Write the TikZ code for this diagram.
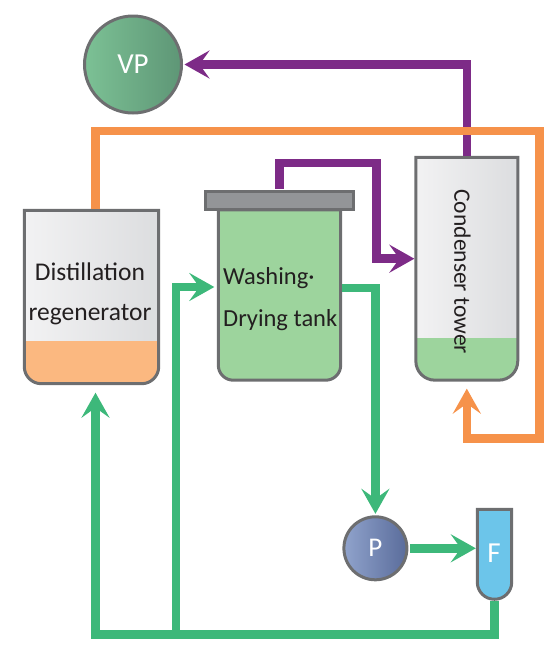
\documentclass[tikz,border=0pt]{standalone}
\usepackage{fontspec}
\setmainfont{Carlito}
\usetikzlibrary{positioning, arrows.meta, backgrounds}

\definecolor{pipe_purple}{HTML}{7D2B87}
\definecolor{pipe_orange}{HTML}{F6924A}
\definecolor{pipe_green}{HTML}{3DB87A}
\definecolor{rim_gray}{HTML}{6D6E70}
\definecolor{lid_gray}{HTML}{939598}
\definecolor{shell_light}{HTML}{F2F2F3}
\definecolor{shell_dark}{HTML}{DCDDDF}
\definecolor{liquid_green}{HTML}{9DD49D}
\definecolor{liquid_orange}{HTML}{FBB880}
\definecolor{filter_blue}{HTML}{6CC5EA}
\definecolor{vp_light}{HTML}{7CC195}
\definecolor{vp_dark}{HTML}{5E9676}
\definecolor{pump_light}{HTML}{90A3CC}
\definecolor{pump_dark}{HTML}{5A6C9B}
\definecolor{label_dark}{HTML}{231F20}

% outline of a vessel with rounded bottom corners
\newcommand{\vesseloutline}[2]{(#1.north west) -- ([yshift=#2]#1.south west) arc[start angle=180, end angle=270, radius=#2] -- ([xshift=-#2]#1.south east) arc[start angle=270, end angle=360, radius=#2] -- (#1.north east) -- cycle}

\begin{document}
\begin{tikzpicture}[x=1pt, y=-1pt,
vessel/.style={rectangle, inner sep=0pt},
vessel_rim/.style={draw=rim_gray, line width=3pt},
lid_bar/.style={rectangle, draw=rim_gray, fill=lid_gray, line width=2.5pt, minimum width=148pt, minimum height=18pt},
pump_circle/.style={circle, draw=rim_gray, line width=3pt, text=white, inner sep=0pt},
tag_text/.style={text=label_dark, inner sep=0pt},
pipe/.style={line width=8.6pt, -{Stealth[length=25pt, width=28pt, inset=10pt]}, shorten <=1.5pt, shorten >=1.5pt},
purple_pipe/.style={pipe, draw=pipe_purple},
orange_pipe/.style={pipe, draw=pipe_orange},
green_pipe/.style={pipe, draw=pipe_green}
]
\useasboundingbox (0,0) rectangle (558,657);

% vessels and machines
\node[vessel, minimum width=134pt, minimum height=173pt](dist) at (91.5,297) {};
\node[vessel, minimum width=122pt, minimum height=170pt](wash) at (279.5,295) {};
\node[lid_bar](lid) at (279.5,200.7) {};
\node[vessel, minimum width=101.5pt, minimum height=222.5pt](cond) at (466.8,268.7) {};
\node[vessel, minimum width=34pt, minimum height=89.5pt](filter) at (494.5,554.3) {};

\node[pump_circle, minimum size=97pt, left color=vp_light, right color=vp_dark, font=\fontsize{29}{29}\selectfont](vp) at (133,64.5) {VP};
\node[pump_circle, minimum size=63pt, left color=pump_light, right color=pump_dark, font=\fontsize{27}{27}\selectfont](pump) at (375.4,548.3) {P};
\node[tag_text, text=white, font=\fontsize{29}{29}\selectfont](filter_text) at (494,553) {F};

% labels
\node[tag_text, align=center, font=\fontsize{25.5}{39.5}\selectfont](dist_text) at (90,294) {Distillation\\regenerator};
\node[tag_text, anchor=west, align=left, font=\fontsize{24.5}{42.5}\selectfont](wash_text) at (223,299) {Washing·\\Drying tank};
\node[tag_text, rotate=-90, font=\fontsize{23.5}{23.5}\selectfont](cond_text) at (462.5,271.7) {Condenser tower};

\begin{scope}[on background layer]
  \shade[left color=shell_light, right color=shell_dark] \vesseloutline{dist}{17pt};
  \begin{scope}
    \clip \vesseloutline{dist}{17pt};
    \fill[liquid_orange] (20,340.7) rectangle (165,390);
  \end{scope}
  \draw[vessel_rim] \vesseloutline{dist}{17pt};

  \fill[liquid_green] \vesseloutline{wash}{15pt};
  \draw[vessel_rim] \vesseloutline{wash}{15pt};

  \shade[left color=shell_light, right color=shell_dark] \vesseloutline{cond}{19pt};
  \begin{scope}
    \clip \vesseloutline{cond}{19pt};
    \fill[liquid_green] (410,338.3) rectangle (525,390);
  \end{scope}
  \draw[vessel_rim] \vesseloutline{cond}{19pt};

  \fill[filter_blue] \vesseloutline{filter}{17pt};
  \draw[vessel_rim] \vesseloutline{filter}{17pt};
\end{scope}

% pipes
\coordinate (junction) at (176,634.7);

\draw[purple_pipe](cond.north) |- (vp.east);
\draw[purple_pipe](lid.north) |- (376.5,163) |- ([yshift=10pt]cond.west);

\draw[orange_pipe, shorten >=8.5pt]([xshift=4pt]dist.north) -- ++(0,-79.5) -| (539.7,438.3) -| (cond.south);

\draw[green_pipe]([yshift=7pt]wash.east) -| (pump.north);
\draw[green_pipe](pump.east) -- (pump.east -| filter.west);
\draw[green_pipe, shorten >=9pt](filter.south) |- (95.5,634.7) -- ([xshift=4pt]dist.south);
\draw[green_pipe, shorten >=4pt](junction) |- ([yshift=8pt]wash.west);

\end{tikzpicture}
\end{document}
